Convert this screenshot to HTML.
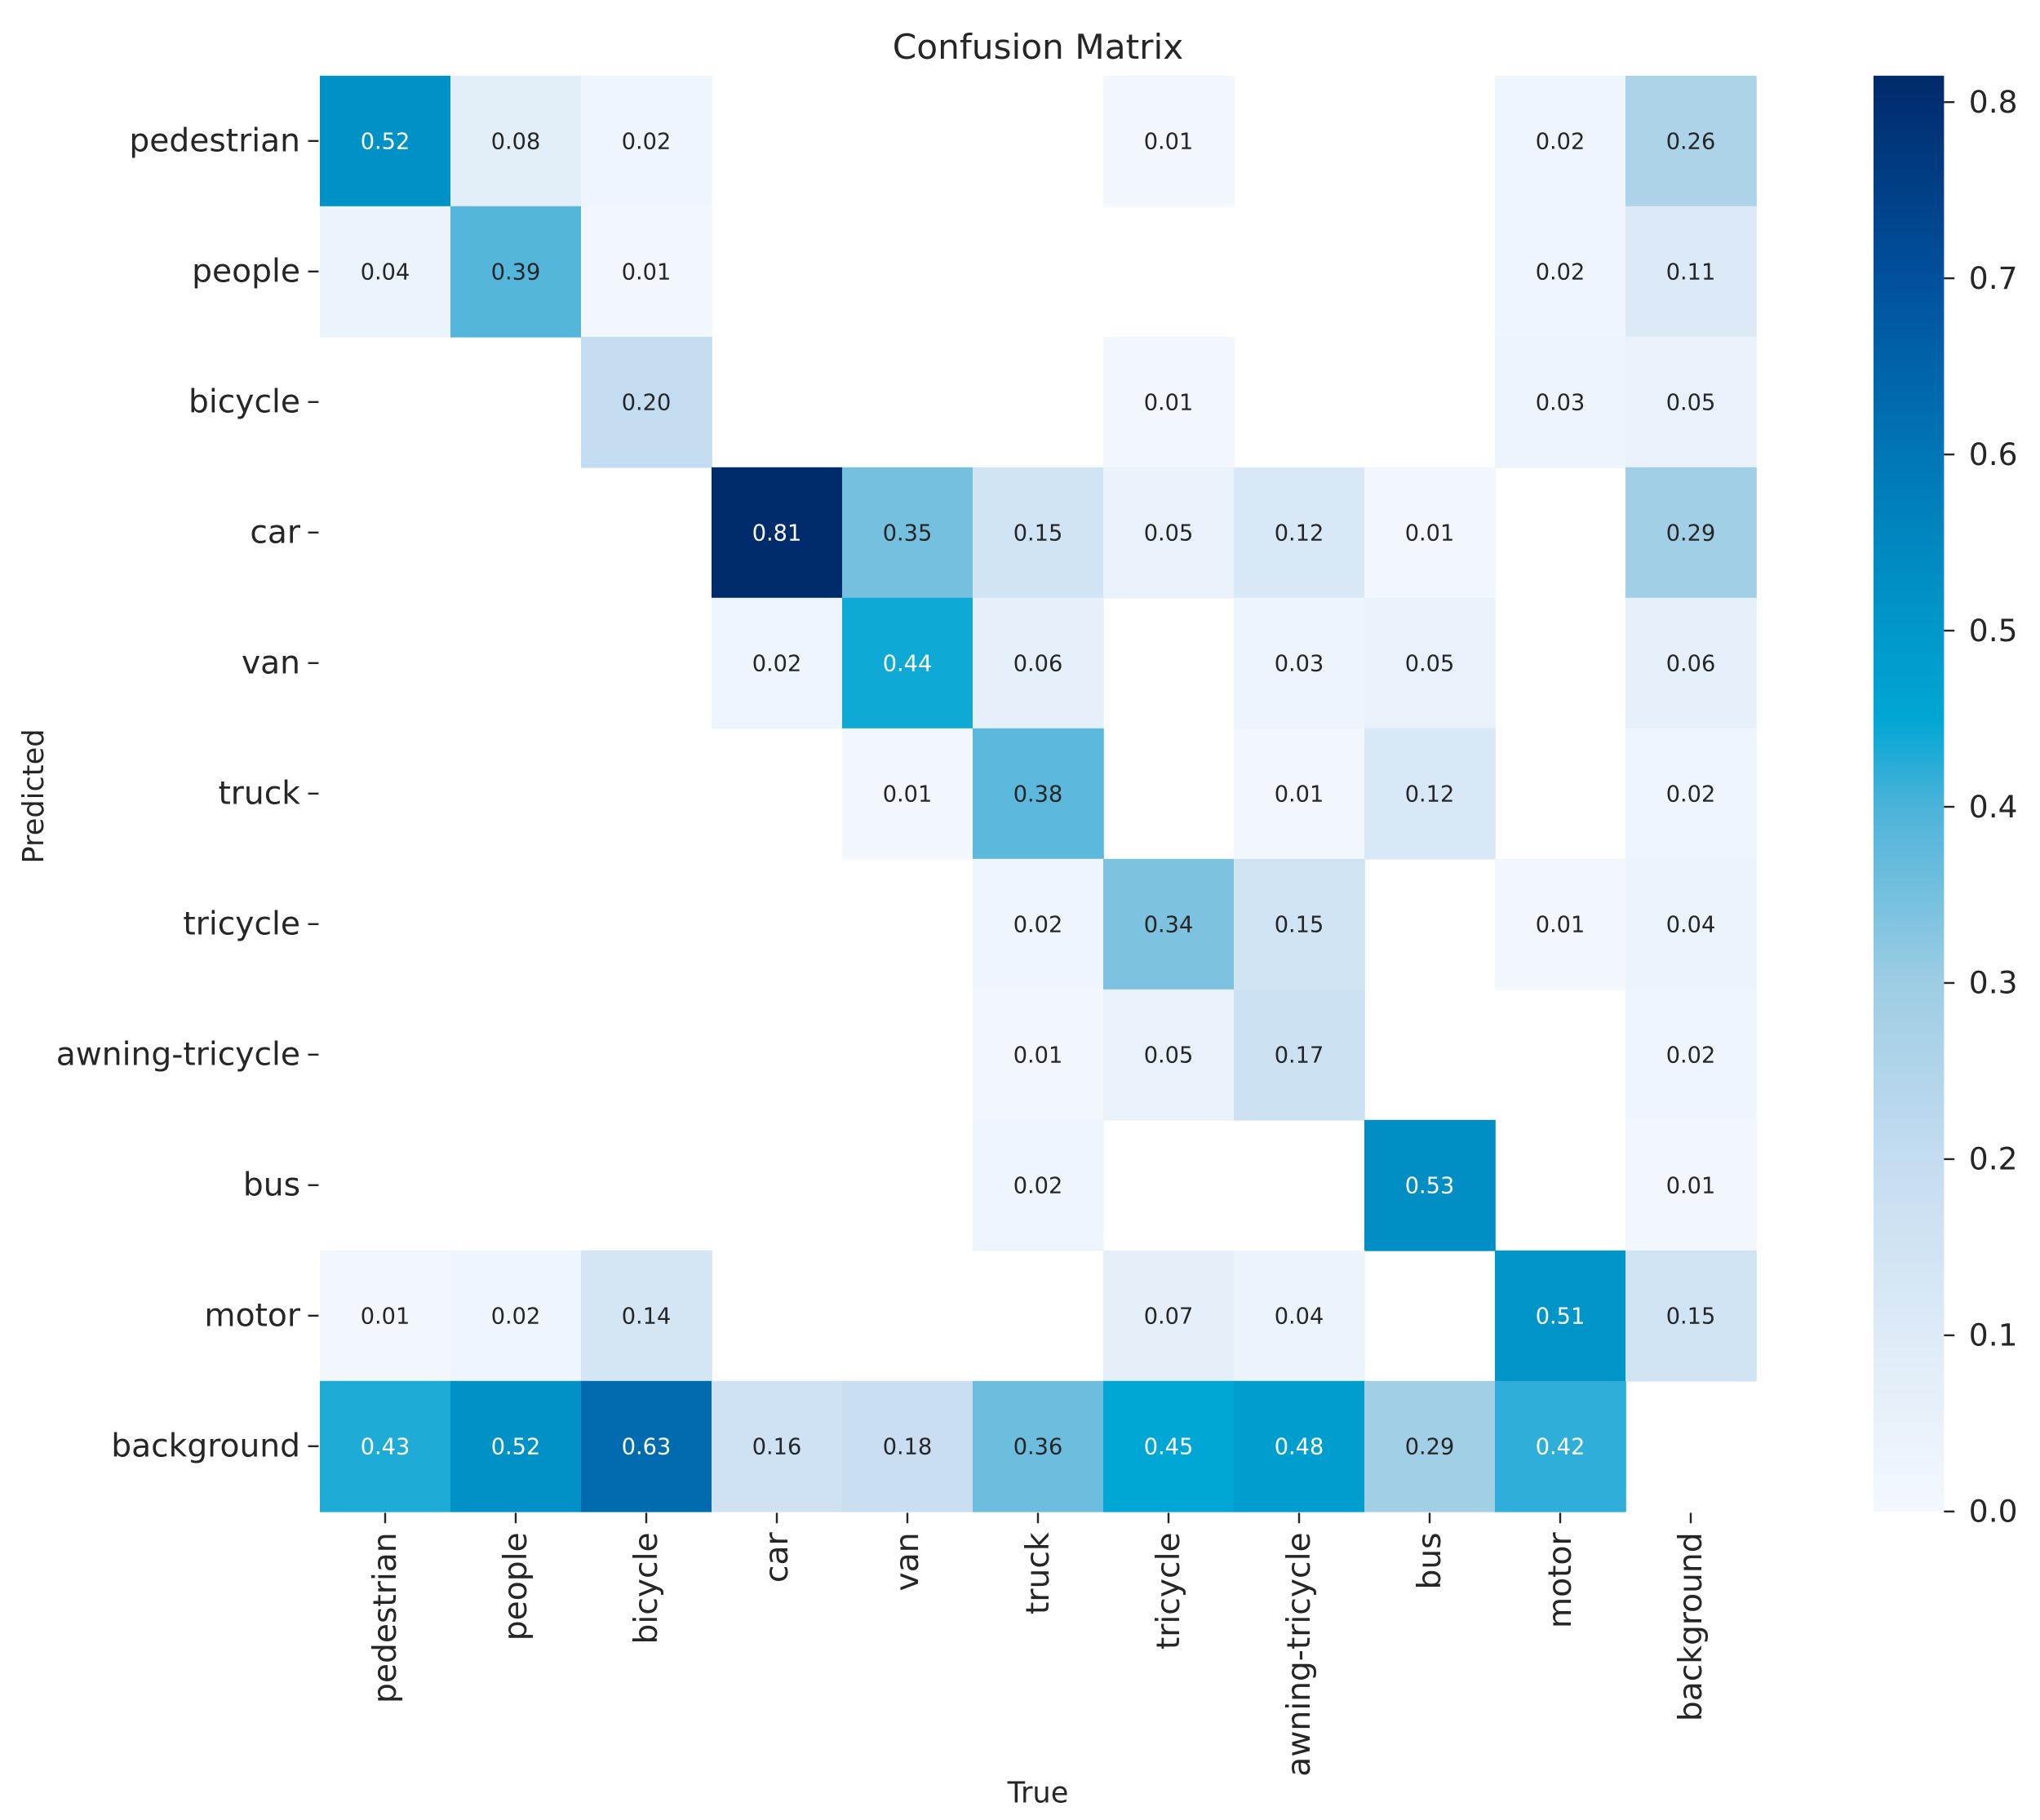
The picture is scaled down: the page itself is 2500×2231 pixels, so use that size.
<!DOCTYPE html>
<html><head><meta charset="utf-8"><style>
html,body{margin:0;padding:0;background:#fff;}
svg{display:block;}
text{font-family:"DejaVu Sans","Liberation Sans",sans-serif;fill:#262626;}
</style></head><body>
<svg id="chart" width="2500" height="2231" viewBox="0 0 1562.5 1394.375" xmlns="http://www.w3.org/2000/svg">
<text x="795" y="45" text-anchor="middle" font-size="26.4">Confusion Matrix</text>
<text x="795" y="1381" text-anchor="middle" font-size="22">True</text>
<text transform="translate(33,610) rotate(-90)" text-anchor="middle" font-size="22">Predicted</text>
<g id="cells"></g>
<g id="ylabels"></g>
<g id="xlabels"></g>
<defs><linearGradient id="cbgrad" x1="0" y1="1" x2="0" y2="0"></linearGradient></defs>
<rect id="cbar" x="1435" y="58" width="54" height="1100" fill="url(#cbgrad)"/>
<g id="cbticks"></g>
</svg>
<script>
const classes = ["pedestrian","people","bicycle","car","van","truck","tricycle","awning-tricycle","bus","motor","background"];
const cbTicks = [0.0,0.1,0.2,0.3,0.4,0.5,0.6,0.7,0.8];
const vmax = 0.815;
const row0 = [0.52,0.08,0.02,0,0,0,0.01,0,0,0.02,0.26];
const row1 = [0.04,0.39,0.01,0,0,0,0,0,0,0.02,0.11];
const row2 = [0,0,0.20,0,0,0,0.01,0,0,0.03,0.05];
const row3 = [0,0,0,0.81,0.35,0.15,0.05,0.12,0.01,0,0.29];
const row4 = [0,0,0,0.02,0.44,0.06,0,0.03,0.05,0,0.06];
const row5 = [0,0,0,0,0.01,0.38,0,0.01,0.12,0,0.02];
const row6 = [0,0,0,0,0,0.02,0.34,0.15,0,0.01,0.04];
const row7 = [0,0,0,0,0,0.01,0.05,0.17,0,0,0.02];
const row8 = [0,0,0,0,0,0.02,0,0,0.53,0,0.01];
const row9 = [0.01,0.02,0.14,0,0,0,0.07,0.04,0,0.51,0.15];
const row10 = [0.43,0.52,0.63,0.16,0.18,0.36,0.45,0.48,0.29,0.42,0];
const matrix = [row0,row1,row2,row3,row4,row5,row6,row7,row8,row9,row10];

const NS="http://www.w3.org/2000/svg";
const X0=245, Y0=58, W=1100, H=1100;
const n=classes.length, cw=W/n, ch=H/n;
const xPos=i=>X0+i*cw, yPos=j=>Y0+j*ch;
const cbY=v=>Y0+H-(v/vmax)*H;
const stops=[[0,"#f3f8fe"],[0.1,"#deebf7"],[0.2,"#c4dcf0"],[0.3,"#9dcde4"],[0.4,"#4cb3da"],[0.45,"#00a6d4"],[0.5,"#0098ca"],[0.6,"#0076b6"],[0.7,"#00509d"],[0.815,"#012a6a"]];
function hex(h){return [1,3,5].map(k=>parseInt(h.substr(k,2),16));}
function color(v){
  if(v<=stops[0][0])return stops[0][1];
  for(let k=1;k<stops.length;k++){
    if(v<=stops[k][0]){const a=stops[k-1],b=stops[k];const t=(v-a[0])/(b[0]-a[0]);
      const ca=hex(a[1]),cb=hex(b[1]);return "rgb("+ca.map((c,i)=>Math.round(c+(cb[i]-c)*t)).join(",")+")";}
  }
  return stops[stops.length-1][1];
}
const grad=document.getElementById("cbgrad");
stops.forEach(s=>{const st=document.createElementNS(NS,"stop");st.setAttribute("offset",(s[0]/vmax*100)+"%");st.setAttribute("stop-color",s[1]);grad.appendChild(st);});

const cells=document.getElementById("cells");
matrix.forEach((row,j)=>row.forEach((v,i)=>{
  if(v<0.005)return;
  const r=document.createElementNS(NS,"rect");
  
  
  r.setAttribute("x",xPos(i));r.setAttribute("y",yPos(j));
  r.setAttribute("width",cw+0.5);r.setAttribute("height",ch+0.5);
  r.setAttribute("fill",color(v));cells.appendChild(r);
  const t=document.createElementNS(NS,"text");
  
  
  t.setAttribute("x",xPos(i)+cw/2);t.setAttribute("y",yPos(j)+ch/2+6);
  t.setAttribute("text-anchor","middle");t.setAttribute("font-size","17");
  t.style.fill=v>=0.40?"#ffffff":"#262626";
  t.textContent=v.toFixed(2);cells.appendChild(t);
}));
const yl=document.getElementById("ylabels"), xl=document.getElementById("xlabels");
classes.forEach((c,k)=>{
  const t=document.createElementNS(NS,"text");
  
  
  t.setAttribute("x",230);t.setAttribute("y",yPos(k)+ch/2+8);
  t.setAttribute("text-anchor","end");t.setAttribute("font-size","24.5");
  t.textContent=c;yl.appendChild(t);
  const tk=document.createElementNS(NS,"line");
  
  
  tk.setAttribute("x1",236);tk.setAttribute("x2",244);tk.setAttribute("y1",yPos(k)+ch/2);tk.setAttribute("y2",yPos(k)+ch/2);
  tk.setAttribute("stroke","#262626");tk.setAttribute("stroke-width","1.5");yl.appendChild(tk);
  const xt=document.createElementNS(NS,"text");
  
  
  const cx=xPos(k)+cw/2+8;
  xt.setAttribute("transform","translate("+cx+",1174) rotate(-90)");
  xt.setAttribute("text-anchor","end");xt.setAttribute("font-size","24.5");
  xt.textContent=c;xl.appendChild(xt);
  const xk=document.createElementNS(NS,"line");
  
  
  xk.setAttribute("x1",xPos(k)+cw/2);xk.setAttribute("x2",xPos(k)+cw/2);xk.setAttribute("y1",1159);xk.setAttribute("y2",1167);
  xk.setAttribute("stroke","#262626");xk.setAttribute("stroke-width","1.5");xl.appendChild(xk);
});
const cbt=document.getElementById("cbticks");
cbTicks.forEach(v=>{
  const y=cbY(v);
  const l=document.createElementNS(NS,"line");
  
  
  l.setAttribute("x1",1489);l.setAttribute("x2",1497);l.setAttribute("y1",y);l.setAttribute("y2",y);
  l.setAttribute("stroke","#262626");l.setAttribute("stroke-width","1.5");cbt.appendChild(l);
  const t=document.createElementNS(NS,"text");
  
  
  t.setAttribute("x",1508);t.setAttribute("y",y+8);t.setAttribute("font-size","23.5");
  t.textContent=v.toFixed(1);cbt.appendChild(t);
});
</script>
</body></html>
